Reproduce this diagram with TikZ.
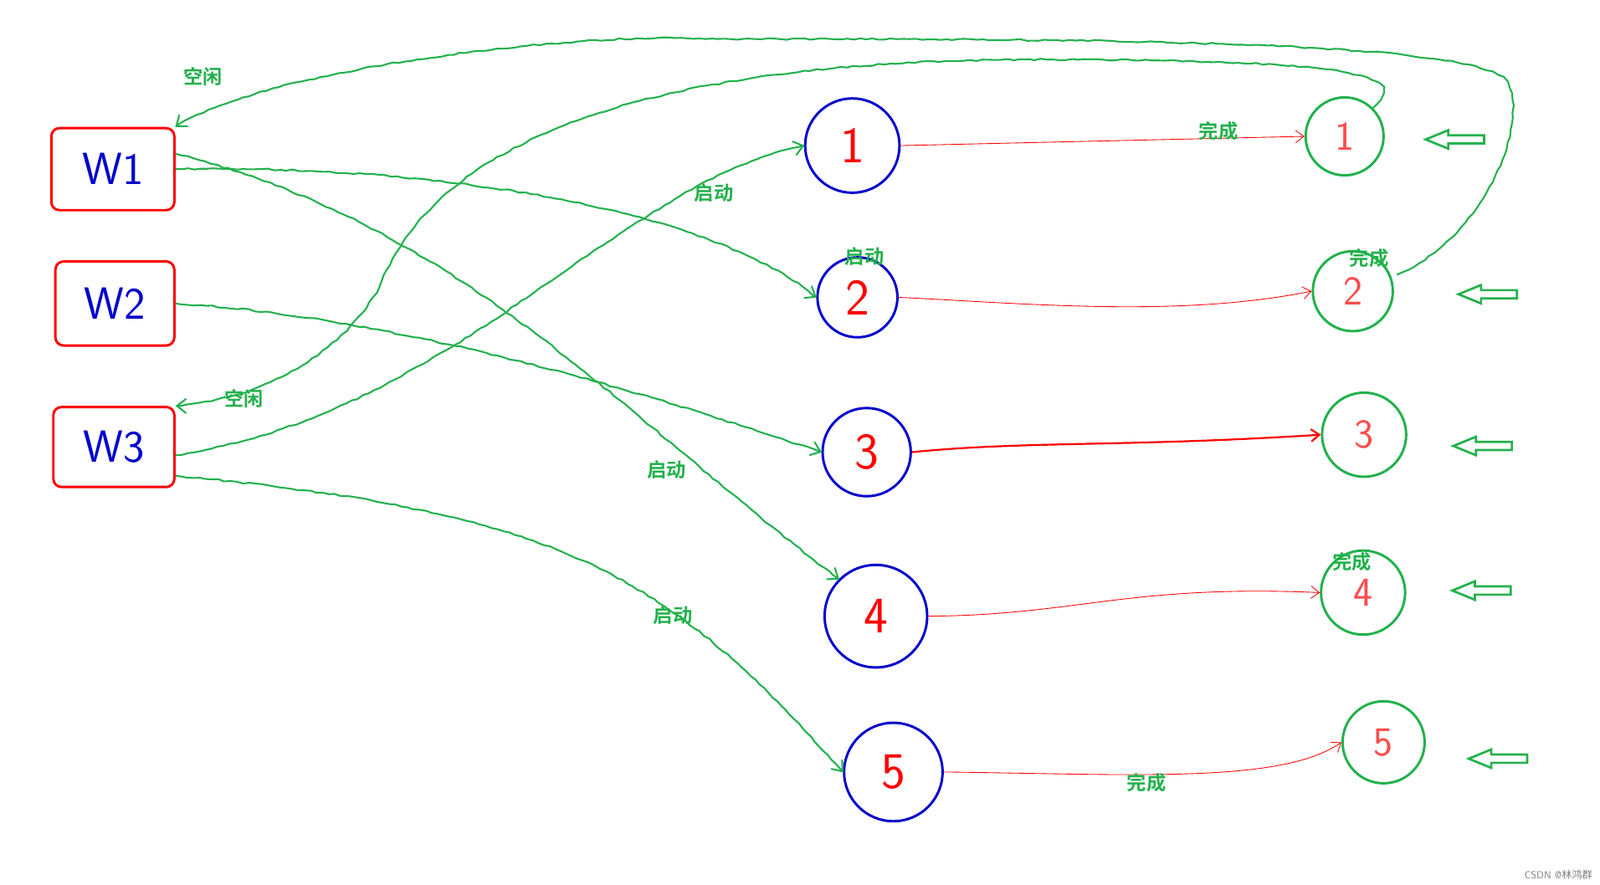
\documentclass[tikz,border=0pt]{standalone}
\usepackage{fontspec}
\newfontfamily\cjk{Noto Sans CJK SC}[BoldFont={Noto Sans CJK SC Bold}]
\usetikzlibrary{arrows.meta,decorations.pathmorphing}
\begin{document}
\begin{tikzpicture}[x=1pt,y=-1pt,
  gline/.style={draw={rgb,255:red,34;green,177;blue,76},line width=1.7pt,decorate,decoration={random steps,segment length=6pt,amplitude=0.8pt},-{Straight Barb[length=9pt,width=14pt]}},
  rline/.style={draw=red,line width=0.7pt,-{Straight Barb[length=8pt,width=12pt]}},
  wbox/.style={draw=red,line width=2.4pt,rounded corners=8pt,font=\sffamily\fontsize{44}{44}\selectfont,text=blue!80!black},
  bcirc/.style={draw=blue!80!black,line width=2.4pt,circle,font=\sffamily\fontsize{50}{50}\selectfont,text=red},
  gcirc/.style={draw={rgb,255:red,34;green,177;blue,76},line width=2.4pt,circle,font=\sffamily\fontsize{40}{40}\selectfont,text=red!70},
  lab/.style={font=\cjk\bfseries\fontsize{19}{19}\selectfont,text={rgb,255:red,34;green,177;blue,76}},
  harrow/.style={draw={rgb,255:red,34;green,177;blue,76},line width=2.2pt}]
\useasboundingbox (0,0) rectangle (1560,863);
\fill[white] (0,0) rectangle (1560,863);
\node[wbox,minimum width=120pt,minimum height=80pt] (w1) at (110,165) {W1};
\node[wbox,minimum width=116pt,minimum height=82pt] (w2) at (112,296) {W2};
\node[wbox,minimum width=118pt,minimum height=78pt] (w3) at (111,436) {W3};
\node[bcirc,minimum size=92pt] (b1) at (831,142) {1};
\node[bcirc,minimum size=78pt] (b2) at (836,290) {2};
\node[bcirc,minimum size=86pt] (b3) at (845,441) {3};
\node[bcirc,minimum size=100pt] (b4) at (854,601) {4};
\node[bcirc,minimum size=96pt] (b5) at (871,753) {5};
\node[gcirc,minimum size=76pt] (g1) at (1311,133) {1};
\node[gcirc,minimum size=78pt] (g2) at (1319,284) {2};
\node[gcirc,minimum size=82pt] (g3) at (1330,424) {3};
\node[gcirc,minimum size=82pt] (g4) at (1329,578) {4};
\node[gcirc,minimum size=80pt] (g5) at (1349,724) {5};
% red lines
\draw[rline] (b1.east) -- (g1.west);
\draw[rline] (b2.east) .. controls (1000,296) and (1150,310) .. (g2.west);
\draw[rline,line width=1.8pt] (b3.east) .. controls (1000,430) and (1100,436) .. (g3.west);
\draw[rline] (b4.east) .. controls (1050,600) and (1100,570) .. (g4.west);
\draw[rline] (b5.east) .. controls (1100,755) and (1250,765) .. (g5.west);
% green connectors
\coordinate (lp1) at (1362,268);
\draw[gline] (lp1) .. controls (1450,230) and (1490,120) .. (1470,80) .. controls (1440,40) and (1100,38) .. (700,38) .. controls (550,30) and (250,70) .. (w1.north east);
\draw[gline] (w1.east) .. controls (450,160) and (700,210) .. (b2.west);
\draw[gline] ([yshift=15pt]w1.east) .. controls (450,220) and (600,400) .. (b4.north west);
\draw[gline] (w2.east) .. controls (400,310) and (650,390) .. (b3.west);
\draw[gline] (g1.north east) .. controls (1380,70) and (1300,58) .. (1000,58) .. controls (600,60) and (420,150) .. (370,280) .. controls (330,350) and (250,390) .. (w3.north east);
\draw[gline] ([yshift=-8pt]w3.east) .. controls (450,400) and (600,180) .. (b1.west);
\draw[gline] ([yshift=-28pt]w3.east) .. controls (550,500) and (650,560) .. (b5.west);
% labels
\node[lab] at (198,75) {空闲};
\node[lab] at (238,389) {空闲};
\node[lab] at (843,250) {启动};
\node[lab] at (696,188) {启动};
\node[lab] at (650,458) {启动};
\node[lab] at (656,600) {启动};
\node[lab] at (1188,128) {完成};
\node[lab] at (1335,252) {完成};
\node[lab] at (1318,548) {完成};
\node[lab] at (1118,763) {完成};
% hollow arrows
\foreach \x/\y in {1390/136,1422/287,1417/435,1416/576,1432/740}{
  \draw[harrow] (\x,\y) -- ++(22,-9) -- ++(0,5) -- ++(35,0) -- ++(0,8) -- ++(-35,0) -- ++(0,5) -- cycle;
}
\node[font=\sffamily\fontsize{10}{10}\selectfont,text=gray,anchor=east] at (1556,853) {CSDN @\cjk 林鸿群};
\end{tikzpicture}
\end{document}
